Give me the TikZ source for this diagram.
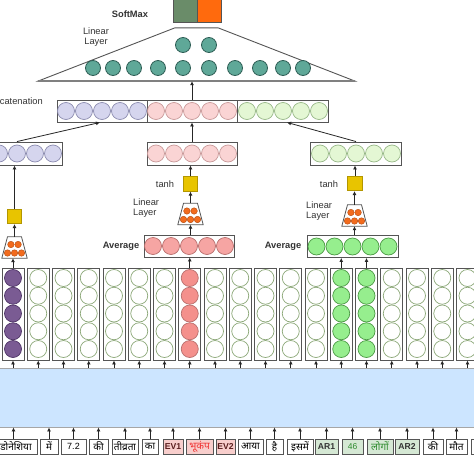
\documentclass[tikz,border=0pt]{standalone}
\usepackage{fontspec}
\setmainfont{Liberation Sans}
\newfontfamily\deva[Script=Devanagari]{Noto Sans}
\usetikzlibrary{arrows.meta,calc}
\definecolor{sage}{HTML}{6A8C69}
\definecolor{orng}{HTML}{FF6A0D}
\definecolor{tealc}{HTML}{5FA898}
\definecolor{teald}{HTML}{2E5E55}
\definecolor{lav}{HTML}{D5D5EE}
\definecolor{lavd}{HTML}{8C8CB0}
\definecolor{pinkl}{HTML}{FAD4D4}
\definecolor{pinkld}{HTML}{C99A9A}
\definecolor{greenl}{HTML}{E4F7D4}
\definecolor{greenld}{HTML}{98B888}
\definecolor{pinkm}{HTML}{F6A5A3}
\definecolor{pinkmd}{HTML}{B86F6D}
\definecolor{greenm}{HTML}{96EE8E}
\definecolor{greenmd}{HTML}{4C9A45}
\definecolor{purp}{HTML}{7A5B93}
\definecolor{purpd}{HTML}{4E3466}
\definecolor{salm}{HTML}{F4908C}
\definecolor{ylw}{HTML}{E8C400}
\definecolor{ylwd}{HTML}{B39600}
\definecolor{orgc}{HTML}{F26B1D}
\definecolor{orgd}{HTML}{B3480B}
\definecolor{olive}{HTML}{8CA878}
\definecolor{bandc}{HTML}{CCE5FF}
\definecolor{tokpink}{HTML}{F8CECC}
\definecolor{tokgreen}{HTML}{D5E8D4}
\definecolor{dredt}{HTML}{5A1E1E}
\definecolor{redt}{HTML}{F03030}
\definecolor{greent}{HTML}{2E8B2E}
\definecolor{edge}{HTML}{555555}
\begin{document}
\begin{tikzpicture}[x=1pt,y=-1pt,
  boxr/.style={draw=edge,line width=0.9pt,inner sep=0pt},
  circ/.style={circle,draw,line width=0.7pt,inner sep=0pt,minimum size=17pt},
  bigc/.style={circle,draw=teald,fill=tealc,line width=0.8pt,inner sep=0pt,minimum size=15pt},
  smc/.style={circle,draw=orgd,fill=orgc,line width=0.4pt,inner sep=0pt,minimum size=6.5pt},
  ybox/.style={draw=ylwd,fill=ylw,line width=0.6pt,minimum size=14.5pt,inner sep=0pt},
  arr/.style={draw=black!85,line width=0.8pt,-{Latex[length=4pt,width=4pt]}},
  lab/.style={font=\fontsize{9.3}{10.5}\selectfont,text=black!80,inner sep=0pt},
  blab/.style={lab,font=\fontsize{9.3}{10.5}\selectfont\bfseries},
  tok/.style={draw=edge,line width=0.9pt,fill=white,minimum height=15pt,inner sep=0pt,font=\fontsize{10}{10}\selectfont},
  ltok/.style={tok,font=\fontsize{8.6}{10}\selectfont\bfseries}
]
\useasboundingbox (0,0) rectangle (474,474);
\clip (0,0) rectangle (474,474);
\fill[white] (0,0) rectangle (474,474);

% ---------- top: softmax and linear layer ----------
\node[draw=edge,fill=sage,minimum width=24pt,minimum height=24pt,inner sep=0pt,line width=0.5pt] (sm1) at (185,10) {};
\node[draw=edge,fill=orng,minimum width=24pt,minimum height=24pt,inner sep=0pt,line width=0.5pt] (sm2) at (209,10) {};
\node[blab] (smlab) at (130,14) {SoftMax};
\node[inner sep=0pt,minimum width=317pt,minimum height=53pt] (bigtrap) at (196.5,54.5) {};
\draw[draw=edge,line width=0.9pt] ($(bigtrap.north)+(-21.5,0)$) -- ($(bigtrap.north)+(21.5,0)$) -- (bigtrap.south east) -- (bigtrap.south west) -- cycle;
\draw[draw=gray,line width=1.6pt] (bigtrap.south west) -- (bigtrap.south east);
\node[lab,align=center] (lllab) at (96,37) {Linear\\Layer};
\node[bigc] (tc1) at (183,45) {};
\node[bigc] (tc2) at (209,45) {};
\foreach \x [count=\i] in {93,113,134,158,183,209,235,260,283,303}
  \node[bigc] (bc\i) at (\x,68) {};

% ---------- concatenation ----------
\node[lab,anchor=east] (conclab) at (43,101) {Concatenation};
\node[boxr,minimum width=90pt,minimum height=22pt] (concB) at (102,111) {};
\node[boxr,minimum width=90pt,minimum height=22pt] (concP) at (192,111) {};
\node[boxr,minimum width=91pt,minimum height=22pt] (concG) at (282.5,111) {};
\foreach \i in {0,...,4}{
  \node[circ,draw=lavd,fill=lav] (cb\i) at (66+18*\i,111) {};
  \node[circ,draw=pinkld,fill=pinkl] (cp\i) at (156+18*\i,111) {};
  \node[circ,draw=greenld,fill=greenl] (cg\i) at (247+18*\i,111) {};
}
\draw[arr] (concP.north) -- (concP.north |- bigtrap.south);

% ---------- middle boxes ----------
\node[boxr,minimum width=90pt,minimum height=23pt] (midB) at (17,153.5) {};
\node[boxr,minimum width=90pt,minimum height=23pt] (midP) at (192,153.5) {};
\node[boxr,minimum width=91pt,minimum height=23pt] (midG) at (356,153.5) {};
\foreach \i in {0,...,4}{
  \node[circ,draw=lavd,fill=lav] (mb\i) at (-19+18*\i,153.5) {};
  \node[circ,draw=pinkld,fill=pinkl] (mp\i) at (156+18*\i,153.5) {};
  \node[circ,draw=greenld,fill=greenl] (mg\i) at (320+18*\i,153.5) {};
}
\draw[arr] (midB.north) -- (concB.south -| 100,0);
\draw[arr] (midP.north) -- (concP.south);
\draw[arr] (midG.north) -- (concG.south -| 287,0);

% ---------- tanh boxes ----------
\node[ybox] (yB) at (14.5,216.5) {};
\node[ybox] (yP) at (190.5,184) {};
\node[ybox] (yG) at (355,183.5) {};
\node[lab] (tanhP) at (165,184) {tanh};
\node[lab] (tanhG) at (329,184) {tanh};
\draw[arr] (yB.north) -- (yB.north |- midB.south);
\draw[arr] (yP.north) -- (yP.north |- midP.south);
\draw[arr] (yG.north) -- (yG.north |- midG.south);

% ---------- small linear layers ----------
\foreach \n/\cx/\cy in {trB/14.5/247.5, trP/190.5/214, trG/354.5/215.5}{
  \node[inner sep=0pt,minimum width=25pt,minimum height=21pt] (\n) at (\cx,\cy) {};
  \draw[draw=edge,line width=0.8pt,fill=white] ($(\n.north)+(-7,0)$) -- ($(\n.north)+(7,0)$) -- (\n.south east) -- (\n.south west) -- cycle;
  \node[smc] (\n-a) at ($(\n.center)+(-3.6,-3)$) {};
  \node[smc] (\n-b) at ($(\n.center)+(3.6,-3)$) {};
  \node[smc] (\n-c) at ($(\n.center)+(-7,5.5)$) {};
  \node[smc] (\n-d) at ($(\n.center)+(0,5.5)$) {};
  \node[smc] (\n-e) at ($(\n.center)+(7,5.5)$) {};
}
\node[lab,align=left,anchor=north west] (llP) at (133,198.5) {Linear\\Layer};
\node[lab,align=left,anchor=north west] (llG) at (306,201.5) {Linear\\Layer};
\draw[arr] (trB.north) -- (trB.north |- yB.south);
\draw[arr] (trP.north) -- (trP.north |- yP.south);
\draw[arr] (trG.north) -- (trG.north |- yG.south);

% ---------- averages ----------
\node[boxr,minimum width=90pt,minimum height=22pt] (avgP) at (189,246) {};
\node[boxr,minimum width=91pt,minimum height=22pt] (avgG) at (352.5,246.5) {};
\foreach \i in {0,...,4}{
  \node[circ,draw=pinkmd,fill=pinkm] (ap\i) at (153+18*\i,246) {};
  \node[circ,draw=greenmd,fill=greenm] (ag\i) at (316.5+18*\i,246.5) {};
}
\node[blab] (avlabP) at (121,246) {Average};
\node[blab] (avlabG) at (283,246) {Average};
\draw[arr] (avgP.north -| trP.south) -- (trP.south);
\draw[arr] (avgG.north -| trG.south) -- (trG.south);

% ---------- token columns ----------
\node[boxr,draw=gray!70,fill=bandc,minimum width=480pt,minimum height=59pt] (band) at (237,397.5) {};
\foreach \i in {0,...,18}{
  \pgfmathsetmacro{\cx}{13+25.25*\i}
  \node[boxr,minimum width=22pt,minimum height=92pt] (col\i) at (\cx,314) {};
  \foreach \j in {0,...,4}{
    \ifnum\i=0
      \node[circ,draw=purpd,fill=purp] (c\i-\j) at (\cx,278+17.75*\j) {};
    \else\ifnum\i=7
      \node[circ,draw=pinkmd,fill=salm] (c\i-\j) at (\cx,278+17.75*\j) {};
    \else\ifnum\i=13
      \node[circ,draw=greenmd,fill=greenm] (c\i-\j) at (\cx,278+17.75*\j) {};
    \else\ifnum\i=14
      \node[circ,draw=greenmd,fill=greenm] (c\i-\j) at (\cx,278+17.75*\j) {};
    \else
      \node[circ,draw=olive,fill=white] (c\i-\j) at (\cx,278+17.75*\j) {};
    \fi\fi\fi\fi
  }
  \draw[arr] (col\i.south |- band.north) -- (col\i.south);
}
\draw[arr] (col0.north) -- (col0.north |- trB.south);
\draw[arr] (col7.north) -- (col7.north |- avgP.south);
\draw[arr] (col13.north) -- (col13.north |- avgG.south);
\draw[arr] (col14.north) -- (col14.north |- avgG.south);

% ---------- tokens ----------
\node[tok,minimum width=47pt] (t1) at (13.5,446.5) {\deva इंडोनेशिया};
\node[tok,minimum width=18pt] (t2) at (49,446.5) {\deva में};
\node[tok,minimum width=25pt,font=\fontsize{9}{10}\selectfont] (t3) at (73.5,446.5) {7.2};
\node[tok,minimum width=19pt] (t4) at (98.5,446.5) {\deva की};
\node[tok,minimum width=26pt] (t5) at (125,446.5) {\deva तीव्रता};
\node[tok,minimum width=16pt] (t6) at (150,446.5) {\deva का};
\node[ltok,fill=tokpink,text=dredt,minimum width=20pt] (t7) at (173,446.5) {EV1};
\node[tok,fill=tokpink,text=redt,minimum width=27pt] (t8) at (199.5,446.5) {\deva भूकंप};
\node[ltok,fill=tokpink,text=dredt,minimum width=19pt] (t9) at (225.5,446.5) {EV2};
\node[tok,minimum width=25pt] (t10) at (250.5,446.5) {\deva आया};
\node[tok,minimum width=17pt] (t11) at (274.5,446.5) {\deva है};
\node[tok,minimum width=26pt] (t12) at (300,446.5) {\deva इसमें};
\node[ltok,fill=tokgreen,text=black!80,minimum width=23pt] (t13) at (326.5,446.5) {AR1};
\node[tok,fill=tokgreen,text=greent,minimum width=21pt,font=\fontsize{8.5}{10}\selectfont] (t14) at (352.5,446.5) {46};
\node[tok,fill=tokgreen,text=greent,minimum width=26pt] (t15) at (380,446.5) {\deva लोगों};
\node[ltok,fill=tokgreen,text=black!80,minimum width=24pt] (t16) at (407,446.5) {AR2};
\node[tok,minimum width=20pt] (t17) at (433,446.5) {\deva की};
\node[tok,minimum width=21pt] (t18) at (456.5,446.5) {\deva मौत};
\node[tok,minimum width=20pt] (t19) at (481,446.5) {};
\foreach \i in {1,...,18}
  \draw[arr] (t\i.north) -- (t\i.north |- band.south);
\end{tikzpicture}
\end{document}
